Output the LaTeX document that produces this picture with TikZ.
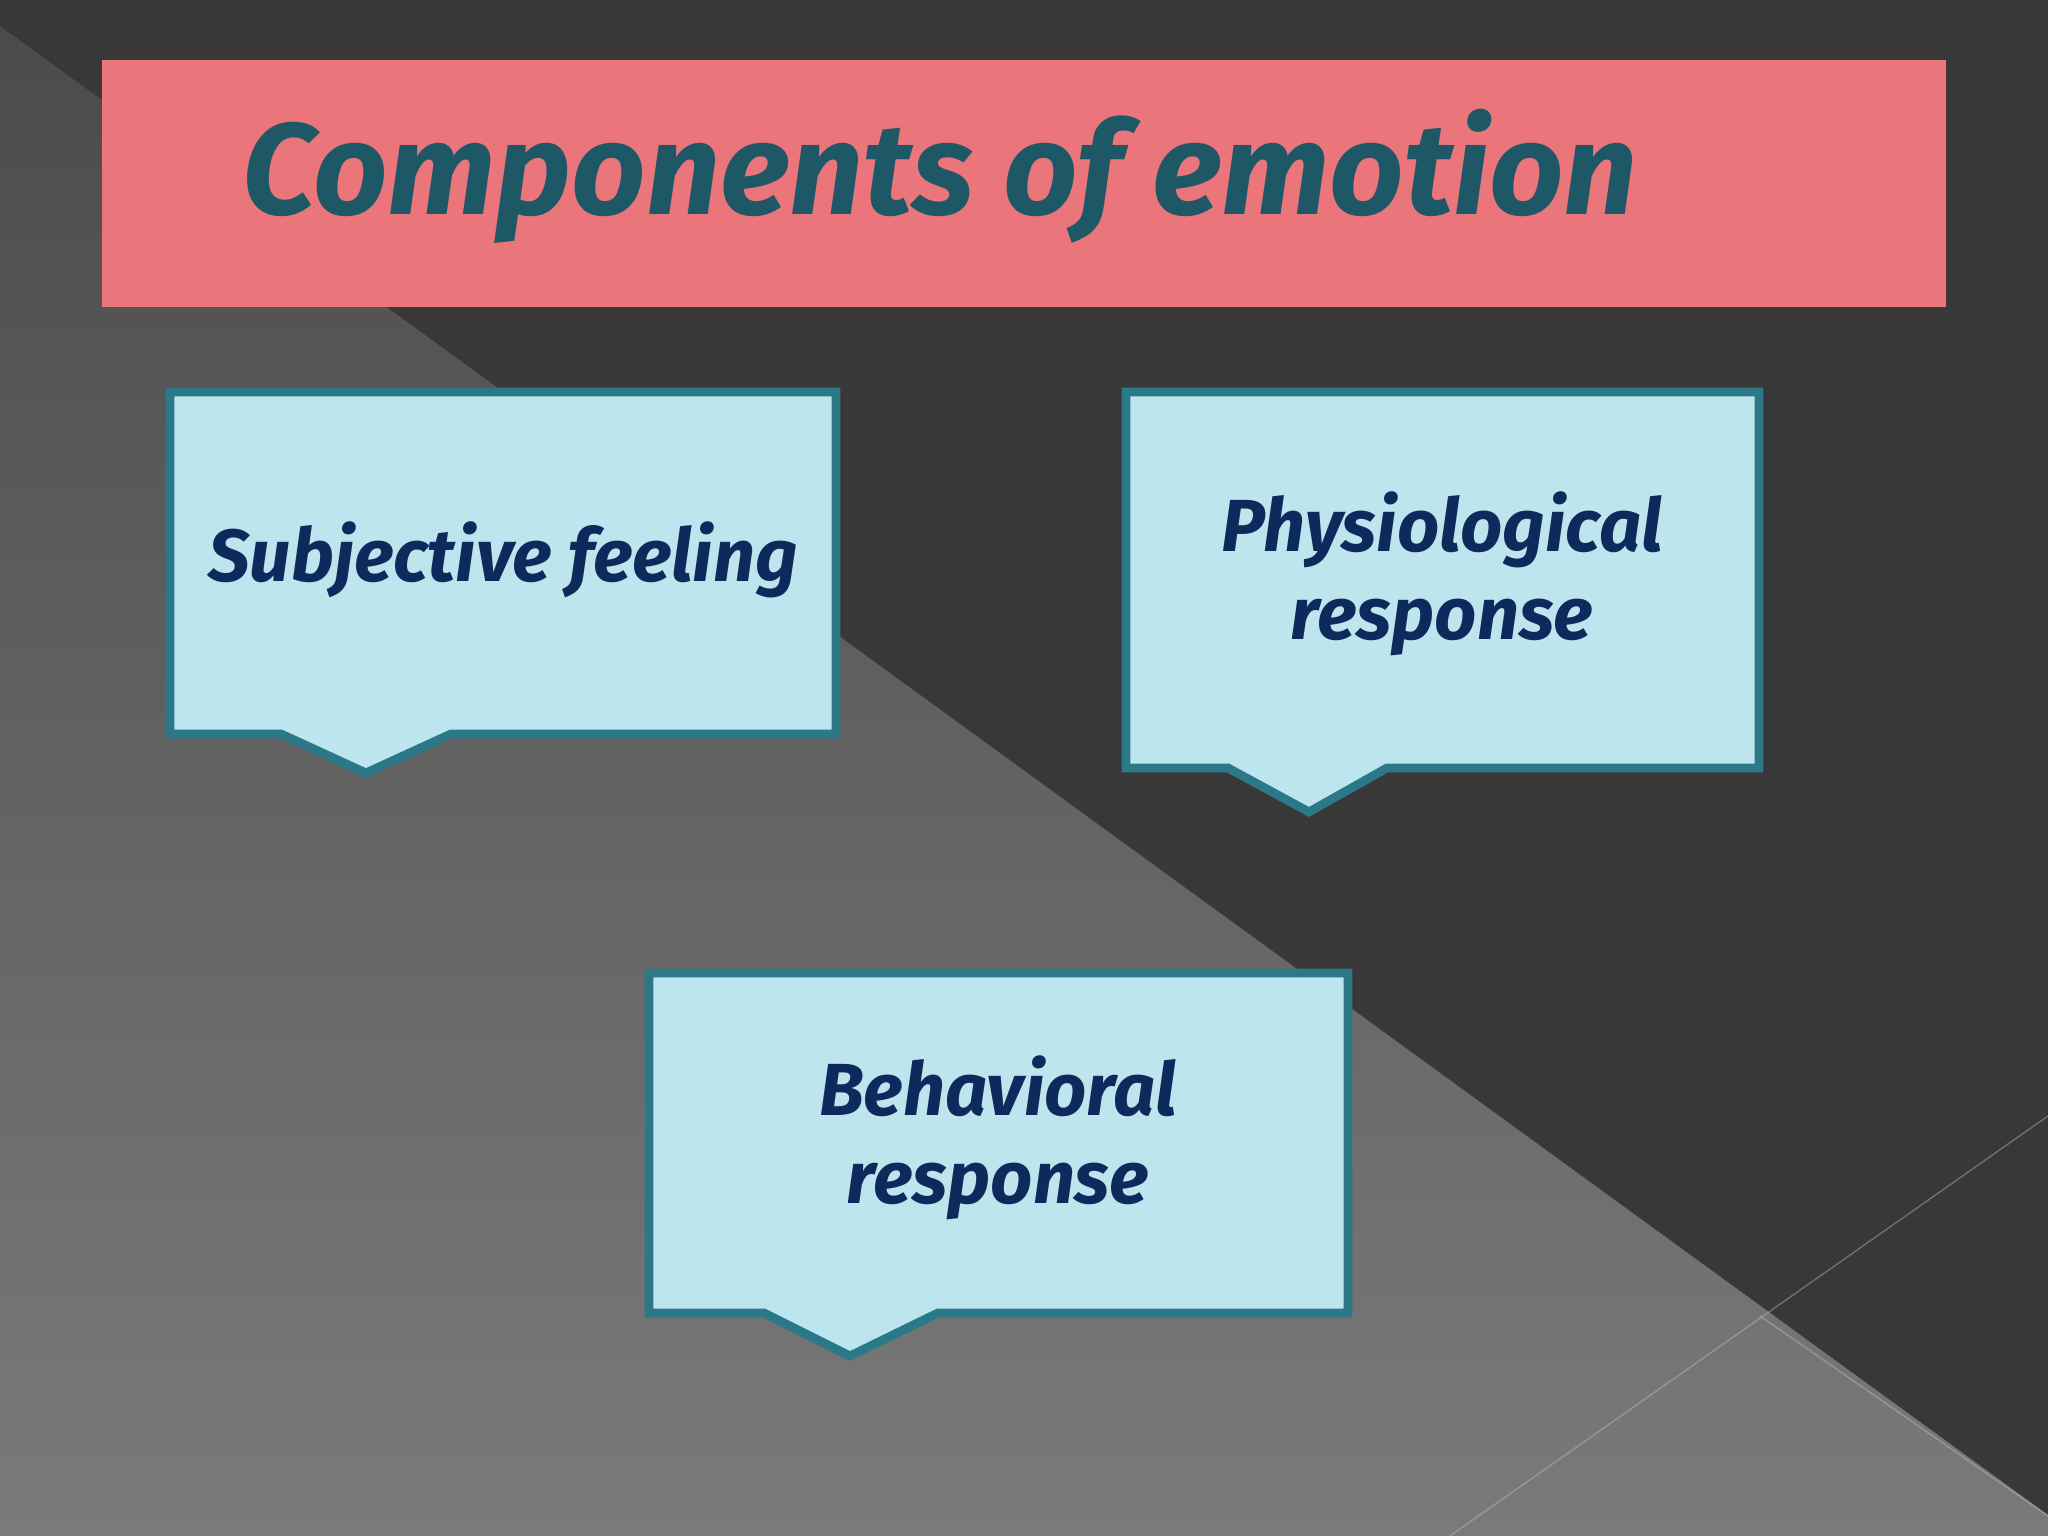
\documentclass[tikz,border=0pt]{standalone}
\usepackage{fontspec}
\setmainfont{Fira Sans}
\usetikzlibrary{positioning}
\definecolor{bgdark}{HTML}{383838}
\definecolor{bgmid}{HTML}{4B4B4B}
\definecolor{bglight}{HTML}{7A7A7A}
\definecolor{band}{HTML}{EA767C}
\definecolor{titleink}{HTML}{1E5866}
\definecolor{boxfill}{HTML}{BDE5EE}
\definecolor{boxline}{HTML}{2A7888}
\definecolor{boxink}{HTML}{0E2A5C}
\tikzset{
  callout/.style={fill=boxfill,draw=boxline,line width=2.5pt,line join=miter},
  boxtext/.style={text=boxink,font=\fontsize{21}{25}\selectfont\itshape\bfseries,align=center}
}
\begin{document}
\begin{tikzpicture}[x=1cm,y=1cm]
    \useasboundingbox (0,0) rectangle (20.48,15.36);
    % background
    \fill[bgdark] (0,0) rectangle (20.48,15.36);
    \shade[top color=bgmid,bottom color=bglight] (0,15.10) -- (20.48,0.21) -- (20.48,0) -- (0,0) -- cycle;
    \draw[white!55!gray,opacity=0.4] (14.5,0) -- (20.48,4.2);
    \draw[white!55!gray,opacity=0.4] (17.6,2.2) -- (20.48,0.2);
    % title band
    \fill[band] (1.02,12.29) rectangle (19.46,14.76);
    \node[text=titleink,font=\fontsize{37}{44}\selectfont\itshape\bfseries,anchor=west] (title) at (2.30,13.60) {Components of emotion};
    % callout boxes
    \draw[callout] (1.70,11.44) -- (8.36,11.44) -- (8.36,8.02) -- (4.51,8.02) -- (3.66,7.63) -- (2.81,8.02) -- (1.70,8.02) -- cycle;
    \node[boxtext] (feel) at (5.03,9.76) {Subjective feeling};
    \draw[callout] (11.26,11.44) -- (17.59,11.44) -- (17.59,7.68) -- (13.87,7.68) -- (13.09,7.24) -- (12.28,7.68) -- (11.26,7.68) -- cycle;
    \node[boxtext] (phys) at (14.42,9.62) {Physiological\\response};
    \draw[callout] (6.49,5.63) -- (13.48,5.63) -- (13.48,2.23) -- (9.38,2.23) -- (8.50,1.80) -- (7.64,2.23) -- (6.49,2.23) -- cycle;
    \node[boxtext] (behav) at (9.98,3.98) {Behavioral\\response};
\end{tikzpicture}
\end{document}
